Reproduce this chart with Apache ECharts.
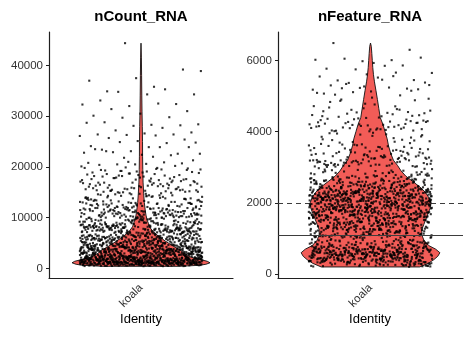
<!DOCTYPE html>
<html>
<head>
<meta charset="utf-8">
<script src="https://cdn.jsdelivr.net/npm/echarts@6/dist/echarts.min.js"></script>
<style>
html,body{margin:0;padding:0;background:#fff}
#chart{width:474px;height:338px}
</style>
</head>
<body>
<div id="chart"></div>
<script>
// Identity groups on the x axis
const identities = ['koala'];

// Tick labels of the two y axes
const countTicks = [0, 10000, 20000, 30000, 40000];
const featureTicks = [0, 2000, 4000, 6000];

// Reference lines on the nFeature panel
const featureDashed = [2000];
const featureSolid = [1100];

// Violin outlines: value along the y axis and relative half width (1 = widest)
const countViolinY = [400, 600, 800, 1100, 1400, 1700, 2000, 2300, 3000, 3600, 4200, 4800, 5400, 6000, 6800, 7500, 8200, 8800, 9500, 10500, 11500, 13000, 14700, 17000, 19500, 22000, 25000, 28000, 31000, 34000, 38000, 41500, 44400];
const countViolinW = [0.55, 0.84, 0.94, 1, 0.96, 0.87, 0.78, 0.71, 0.62, 0.57, 0.49, 0.42, 0.35, 0.29, 0.21, 0.16, 0.123, 0.109, 0.09, 0.072, 0.061, 0.048, 0.039, 0.030, 0.026, 0.023, 0.022, 0.019, 0.0145, 0.0116, 0.0087, 0.0058, 0];
const featureViolinY = [200, 300, 400, 500, 600, 700, 800, 950, 1100, 1250, 1400, 1550, 1700, 1850, 2000, 2150, 2300, 2450, 2600, 2750, 2900, 3050, 3200, 3400, 3600, 3800, 4000, 4200, 4400, 4650, 4900, 5150, 5400, 5600, 5800, 6000, 6200, 6400, 6490];
const featureViolinW = [0.71, 0.83, 0.91, 0.97, 1, 0.94, 0.84, 0.77, 0.74, 0.74, 0.77, 0.8, 0.83, 0.86, 0.87, 0.84, 0.79, 0.71, 0.61, 0.51, 0.44, 0.39, 0.33, 0.29, 0.26, 0.24, 0.21, 0.18, 0.14, 0.12, 0.1, 0.079, 0.057, 0.043, 0.033, 0.026, 0.019, 0.011, 0];

// Per-cell nCount_RNA values
const nCount = [
44400, 38900, 35800, 34900, 39200, 37500, 37000, 35300, 34800, 34300,
34300, 33100, 32400, 32000, 32300, 32500, 31400, 31000, 30500, 30100,
29800, 29700, 28400, 28300, 28800, 28200, 28100, 28700, 27700, 27200,
26800, 26600, 26400, 26400, 26300, 26100, 26200, 25700, 25400, 25100,
24100, 24700, 24900, 24800, 23900, 23400, 22600, 23100, 22800, 23900,
22900, 23900, 22400, 23500, 22300, 21800, 22600, 22000, 23100, 20700,
20500, 20800, 20900, 20500, 21300, 20600, 20400, 20200, 21000, 20100,
19800, 15300, 17600, 16200, 18900, 15800, 19200, 16700, 17100, 15100,
18400, 16900, 15600, 19500, 17800, 16400, 18100, 15400, 17300, 19900,
16100, 18600, 15900, 17500, 19100, 16600, 15200, 18300, 17000, 16300,
19400, 15700, 18700, 16800, 17400, 15500, 19700, 16000, 18200, 17700,
15000, 18800, 16500, 19300, 17200, 15800, 18500, 16200, 17900, 19000,
15300, 16900, 18000, 15600, 17100, 19600, 16400, 15100, 18400, 17600,
16700, 19200, 15400, 17300, 18100, 16000, 15900, 19800, 16600, 17800,
15200, 18900, 16300, 17000, 15700, 19500, 16800, 18600, 15500, 17500,
16100, 18300, 15000, 17200, 19100, 16500, 15600, 18700, 17400, 16200,
15300, 19400, 17900, 15800, 16400, 18200, 15100, 17700, 16900, 15400,
10200, 12800, 11400, 14600, 10700, 13300, 11900, 10400, 12100, 14100,
10900, 11200, 13700, 10100, 12500, 11600, 14900, 10600, 13000, 11000,
12300, 10300, 11800, 14400, 10800, 12900, 11300, 13500, 10500, 12000,
11700, 14200, 10000, 12600, 11100, 13900, 10900, 12200, 11500, 14700,
10400, 13100, 11900, 10200, 12700, 11400, 13600, 10700, 12400, 11000,
14300, 10600, 11800, 13200, 10100, 12000, 11600, 14800, 10300, 12900,
11200, 13400, 10800, 11700, 12300, 10500, 14000, 11300, 12600, 10000,
13800, 11100, 10900, 12100, 14500, 10400, 11500, 13000, 10700, 12800,
11900, 10200, 13300, 11400, 12500, 10600, 14100, 11000, 10300, 12200,
13700, 11800, 10800, 12700, 11200, 14600, 10100, 11600, 13100, 10500,
12400, 11300, 10900, 13600, 11700, 10000, 12000, 14400, 10400, 11100,
12900, 10700, 13900, 11500, 10200, 12300, 11900, 14900, 10600, 13200,
11000, 12600, 10300, 11400, 13500, 10800, 12100, 11800, 14200, 10500,
11200, 13000, 10900, 12800, 11600, 10100, 14700, 11300, 12500, 10400,
13400, 11700, 10700, 12200, 11100, 14000, 10000, 11900, 13800, 10600,
12700, 11500, 10200, 13100, 11000, 14300, 10800, 12400, 11400, 10300,
7200, 8900, 7600, 9500, 8100, 7000, 9200, 7800, 8400, 7300,
9800, 8600, 7500, 8000, 9100, 7100, 8700, 7900, 9600, 8200,
7400, 9000, 8300, 7700, 9400, 8800, 7200, 8500, 9900, 7600,
8100, 7000, 9300, 7800, 8600, 7300, 9700, 8000, 7500, 8900,
9200, 7100, 8400, 7900, 9500, 8200, 7400, 8700, 7700, 9000,
8300, 7200, 9800, 8500, 7600, 8100, 9100, 7000, 8800, 7800,
9400, 7300, 8600, 8000, 7500, 9600, 8200, 7100, 8900, 7900,
9300, 7400, 8400, 7700, 9700, 8700, 7200, 8000, 9000, 7600,
8500, 7000, 9200, 7800, 8300, 7300, 9900, 8100, 7500, 8800,
9400, 7100, 8600, 7900, 9100, 8200, 7400, 8400, 7700, 9500,
8900, 7200, 8000, 7600, 9300, 8700, 7000, 8300, 7800, 9800,
8500, 7300, 9000, 8100, 7500, 9600, 8600, 7100, 7900, 8800,
9200, 7400, 8200, 7700, 9700, 8400, 7200, 8000, 9400, 7600,
8700, 7000, 9100, 7800, 8300, 7300, 9500, 8900, 7500, 8100,
7100, 9900, 8500, 7900, 7400, 9000, 8200, 7700, 8600, 7200,
5100, 6300, 5600, 6800, 5300, 6000, 5800, 6500, 5200, 6100,
5900, 6700, 5400, 6200, 5000, 6600, 5700, 6400, 5500, 6900,
5100, 6000, 5800, 6300, 5300, 6500, 5600, 6100, 5000, 6800,
5400, 6200, 5900, 6600, 5200, 6400, 5700, 6000, 5500, 6700,
5100, 6300, 5800, 6900, 5300, 6100, 5600, 6500, 5000, 6200,
5900, 6800, 5400, 6000, 5700, 6400, 5200, 6600, 5500, 6100,
5000, 6300, 5800, 6700, 5300, 6200, 5600, 6500, 5100, 6000,
5900, 6900, 5400, 6400, 5700, 6100, 5200, 6800, 5500, 6300,
5000, 6600, 5800, 6200, 5300, 6000, 5600, 6700, 5100, 6500,
5900, 6100, 5400, 6900, 5700, 6300, 5200, 6400, 5500, 6000,
5050, 6250, 5750, 6650, 5350, 6050, 5650, 6450, 5150, 6850,
5450, 6150, 5850, 6550, 5250, 6350, 5550, 6950, 5950, 6750,
5020, 5380, 5720, 6080, 5260, 5640, 6420, 5180, 5880, 6230,
5470, 5120, 5790, 6160, 5330, 5560, 6370, 5010, 5910, 6590,
5240, 5670, 6020, 5430, 5810, 6290, 5150, 5530, 6470, 5960,
3100, 4500, 3600, 4100, 3300, 4800, 3900, 3000, 4300, 3500,
4700, 3200, 4000, 3800, 4600, 3400, 4200, 3700, 4900, 3100,
4400, 3600, 3000, 4100, 3900, 4500, 3300, 4800, 3500, 4000,
3700, 4300, 3200, 4600, 3800, 4200, 3400, 4900, 3000, 4400,
3600, 4100, 3100, 4700, 3900, 4000, 3300, 4500, 3500, 4200,
3800, 4800, 3200, 4300, 3700, 4600, 3400, 4100, 3000, 4900,
3650, 4050, 3150, 4450, 3850, 4250, 3350, 4750, 3550, 4150,
3050, 4550, 3750, 4350, 3250, 4850, 3450, 4650, 3950, 3050,
3120, 4480, 3670, 4130, 3320, 4770, 3910, 3040, 4290, 3530,
4710, 3230, 4020, 3810, 4620, 3420, 4210, 3730, 4940, 3170,
4380, 3580, 3070, 4160, 3880, 4520, 3360, 4830, 3470, 4060,
3760, 4330, 3260, 4580, 3840, 4270, 3440, 4910, 3010, 4430,
3630, 4180, 3140, 4690, 3930, 4090, 3370, 4540, 3510, 4230,
3830, 4860, 3210, 4310, 3690, 4640, 3460, 4110, 3090, 4960,
3680, 4020, 3190, 4460, 3870, 4240, 3310, 4730, 3590, 4140,
3020, 4570, 3790, 4390, 3280, 4820, 3490, 4680, 3970, 3110,
3560, 4070, 3240, 4410, 3720, 3390, 4190, 3610, 3080, 4350,
3940, 3180, 4590, 3740, 3290, 4020, 3540, 3860, 3130, 4260,
3410, 3990, 3270, 3710, 3060, 4120, 3520, 3340, 3820, 3160,
1100, 2500, 1600, 2100, 1300, 2800, 1900, 1000, 2300, 1500,
2700, 1200, 2000, 1800, 2600, 1400, 2200, 1700, 2900, 1100,
2400, 1600, 1000, 2100, 1900, 2500, 1300, 2800, 1500, 2000,
1700, 2300, 1200, 2600, 1800, 2200, 1400, 2900, 1050, 2400,
1650, 2150, 1150, 2750, 1950, 2050, 1350, 2550, 1550, 2250,
1850, 2850, 1250, 2350, 1750, 2650, 1450, 2150, 1050, 2950,
1120, 2480, 1670, 2130, 1320, 2770, 1910, 1040, 2290, 1530,
2710, 1230, 2020, 1810, 2620, 1420, 2210, 1730, 2940, 1170,
2380, 1580, 1070, 2160, 1880, 2520, 1360, 2830, 1470, 2060,
1760, 2330, 1260, 2580, 1840, 2270, 1440, 2910, 1010, 2430,
1630, 2180, 1140, 2690, 1930, 2090, 1370, 2540, 1510, 2230,
1830, 2860, 1210, 2310, 1690, 2640, 1460, 2110, 1090, 2960,
1680, 2020, 1190, 2460, 1870, 2240, 1310, 2730, 1590, 2140,
1020, 2570, 1790, 2390, 1280, 2820, 1490, 2680, 1970, 1110,
1560, 2070, 1240, 2410, 1720, 1390, 2190, 1610, 1080, 2350,
1940, 1180, 2590, 1740, 1290, 2020, 1540, 1860, 1130, 2260,
1410, 1990, 1270, 1710, 1060, 2120, 1520, 1340, 1820, 1160,
1210, 1480, 1030, 1640, 1380, 1150, 1780, 1250, 1430, 1090,
2450, 1570, 1330, 2080, 1620, 1200, 2720, 1460, 1040, 1900,
1350, 2180, 1130, 1690, 2560, 1280, 1850, 1070, 2300, 1500,
1180, 1760, 1420, 2010, 1240, 1600, 2890, 1320, 1950, 1100,
1560, 1140, 2200, 1390, 1700, 1030, 2470, 1260, 1800, 1470,
1060, 2640, 1300, 1920, 1190, 1550, 2100, 1400, 1710, 1120,
1230, 1660, 1020, 2360, 1450, 1800, 1160, 1980, 1350, 2790,
650, 820, 480, 930, 710, 560, 880, 600, 770, 990,
520, 690, 850, 430, 740, 960, 580, 810, 670, 900,
450, 790, 620, 970, 540, 860, 700, 500, 920, 760,
630, 840, 470, 980, 680, 570, 890, 730, 610, 950,
510, 800, 660, 910, 440, 750, 870, 590, 940, 720,
550, 830, 640, 990, 490, 780, 910, 620, 700, 860,
530, 950, 680, 810, 460, 740, 890, 600, 970, 770,
560, 830, 650, 920, 500, 710, 880, 590, 960, 760,
1340, 2710, 880, 3450, 1960, 5200, 2280, 760, 4100, 1520,
3080, 1190, 6100, 2460, 940, 1780, 3720, 2050, 5650, 1410,
2590, 830, 4470, 1630, 3290, 1070, 2170, 6580, 1880, 2940,
1260, 3860, 710, 2390, 4920, 1560, 2820, 1010, 3570, 1730,
5430, 2120, 1380, 620, 3010, 1910, 4280, 2660, 1150, 3340,
1670, 6290, 2230, 960, 3780, 1490, 2540, 5870, 1820, 1040,
2980, 4630, 1290, 2370, 850, 3620, 1970, 5010, 2720, 1110,
1590, 3190, 740, 2080, 4390, 1360, 2860, 6850, 1750, 3470,
1220, 2440, 5560, 1930, 930, 3910, 2610, 1450, 4760, 1060,
2190, 3380, 1700, 680, 2890, 1280, 5340, 2010, 3650, 1540,
990, 2500, 4180, 1840, 3120, 1170, 6420, 2290, 1620, 3830,
2770, 1320, 790, 4560, 1990, 2630, 1090, 3260, 5780, 1470,
1860, 3540, 2140, 1210, 4990, 2410, 870, 1690, 3060, 6020,
1400, 2930, 1780, 4310, 1030, 2330, 3700, 1570, 5120, 2060,
1160, 3390, 2700, 910, 4050, 1950, 1310, 2480, 6700, 1640,
3160, 1060, 2260, 4840, 1730, 3590, 1250, 5490, 2550, 820,
1920, 4230, 1480, 2790, 1100, 3930, 2110, 1610, 5960, 2360,
1390, 3270, 950, 2640, 4680, 1800, 3010, 1180, 2200, 6230,
1510, 3740, 2420, 860, 4420, 1670, 2910, 1270, 3480, 5300,
2030, 1130, 3840, 2580, 720, 1870, 4570, 2250, 1430, 3170,
6540, 1740, 2820, 1050, 3610, 1960, 5080, 2470, 1360, 4010,
1580, 2960, 900, 2170, 4740, 1230, 3420, 1900, 5610, 2680,
1200, 3310, 2090, 1660, 4130, 2530, 780, 1830, 3890, 6140,
1440, 2340, 3000, 1080, 4890, 2210, 1710, 3530, 1300, 5410,
2570, 970, 1950, 3760, 1530, 4340, 2730, 1140, 3220, 6760,
1350, 2440, 4610, 1760, 2900, 1020, 3680, 2050, 5200, 1600,
2150, 3990, 1250, 2670, 810, 4210, 1890, 3350, 1470, 5730,
1120, 2380, 3140, 1580, 4480, 2000, 920, 2800, 3810, 1650,
2270, 5030, 1420, 3050, 1780, 4650, 2490, 1000, 3430, 6360,
1330, 2600, 1890, 3950, 1150, 2240, 4400, 1700, 5850, 2950,
7350, 10800, 8150, 12600, 7750, 9450, 13900, 8550, 11300, 7150,
9850, 7450, 14400, 8250, 10400, 7650, 12100, 8950, 7050, 11700,
8450, 13200, 7250, 9650, 10100, 7850, 14800, 8650, 11900, 7550,
9250, 12800, 7950, 10600, 8050, 13500, 7350, 9050, 11100, 8750,
7150, 14100, 8350, 10300, 7650, 12400, 9350, 7450, 11500, 8850,
7850, 13700, 8150, 9750, 7250, 10900, 12200, 8450, 7550, 9150,
14600, 7950, 11200, 8650, 7350, 10200, 9550, 13100, 8050, 7750,
11800, 8250, 7050, 12900, 9950, 7650, 10700, 8550, 14300, 7450,
9450, 11400, 7150, 8950, 13400, 7850, 10500, 8350, 12300, 7250,
8750, 9850, 11600, 7550, 13800, 8150, 10000, 7950, 12700, 9050
];

// Per-cell nFeature_RNA values
const nFeature = [
412, 687, 253, 534, 811, 376, 598, 742, 465, 925,
318, 553, 706, 441, 879, 264, 621, 503, 768, 397,
582, 836, 227, 649, 471, 958, 342, 715, 527, 604,
289, 763, 438, 571, 902, 356, 689, 514, 247, 831,
624, 405, 752, 338, 567, 983, 476, 641, 213, 798,
545, 372, 867, 459, 612, 736, 281, 503, 944, 428,
697, 331, 586, 814, 457, 239, 673, 521, 759, 366,
489, 918, 602, 274, 735, 548, 383, 856, 431, 657,
206, 576, 724, 492, 349, 891, 633, 416, 781, 558,
305, 668, 447, 963, 529, 712, 258, 594, 837, 402,
641, 485, 227, 779, 363, 552, 906, 619, 434, 748,
512, 296, 687, 571, 843, 419, 637, 351, 726, 468,
925, 583, 244, 661, 497, 815, 387, 536, 702, 452,
619, 331, 774, 566, 268, 895, 448, 683, 524, 407,
756, 602, 373, 849, 478, 214, 628, 541, 937, 695,
441, 587, 318, 729, 506, 862, 391, 654, 231, 573,
798, 463, 617, 345, 952, 531, 688, 427, 764, 285,
556, 902, 479, 643, 372, 715, 593, 249, 826, 518,
667, 396, 781, 553, 438, 976, 612, 327, 704, 485,
539, 263, 648, 827, 416, 573, 741, 357, 889, 501,
624, 447, 293, 708, 562, 838, 431, 675, 219, 596,
753, 488, 614, 372, 917, 527, 681, 304, 779, 459,
582, 236, 697, 543, 861, 423, 638, 354, 727, 496,
411, 663, 286, 819, 547, 392, 735, 618, 471, 948,
527, 342, 774, 601, 458, 253, 689, 532, 807, 374,
646, 498, 223, 712, 565, 884, 419, 657, 336, 593,
768, 441, 627, 279, 541, 932, 486, 703, 368, 579,
437, 804, 552, 316, 684, 519, 241, 746, 607, 392,
869, 473, 635, 521, 297, 758, 583, 445, 991, 662,
354, 597, 716, 463, 832, 538, 271, 649, 406, 775,
1043, 1587, 1268, 1912, 1395, 1736, 1124, 1653, 1847, 1309,
1472, 1968, 1205, 1561, 1783, 1036, 1429, 1874, 1647, 1258,
1816, 1347, 1592, 1091, 1938, 1476, 1712, 1183, 1624, 1865,
1251, 1708, 1433, 1976, 1162, 1549, 1821, 1387, 1064, 1693,
1907, 1519, 1228, 1776, 1452, 1843, 1116, 1675, 1334, 1982,
1578, 1141, 1729, 1863, 1296, 1613, 1047, 1952, 1438, 1786,
1362, 1894, 1527, 1173, 1668, 1805, 1245, 1931, 1492, 1079,
1741, 1318, 1856, 1609, 1197, 1924, 1456, 1688, 1023, 1571,
1838, 1284, 1637, 1995, 1411, 1752, 1135, 1586, 1879, 1346,
1503, 1967, 1214, 1796, 1378, 1642, 1058, 1913, 1485, 1727,
1269, 1831, 1554, 1107, 1693, 1948, 1322, 1768, 1419, 1884,
1636, 1191, 1747, 1532, 1973, 1285, 1819, 1068, 1605, 1398,
1926, 1461, 1713, 1154, 1857, 1579, 1236, 1694, 1988, 1353,
1771, 1025, 1648, 1906, 1409, 1538, 1872, 1267, 1721, 1483,
1119, 1961, 1593, 1342, 1805, 1678, 1218, 1947, 1446, 1762,
1597, 1293, 1889, 1056, 1734, 1516, 1923, 1377, 1662, 1148,
1843, 1427, 1701, 1982, 1274, 1619, 1811, 1035, 1562, 1897,
1359, 1754, 1498, 1934, 1186, 1673, 1867, 1443, 1226, 1789,
1651, 1918, 1313, 1586, 1097, 1828, 1471, 1742, 1964, 1237,
1525, 1878, 1164, 1697, 1433, 1956, 1302, 1779, 1618, 1073,
1894, 1388, 1736, 1549, 1211, 1853, 1467, 1991, 1632, 1329,
1767, 1083, 1689, 1902, 1436, 1574, 1261, 1825, 1713, 1958,
1403, 1657, 1947, 1128, 1796, 1518, 1869, 1341, 1604, 1243,
1977, 1562, 1818, 1282, 1725, 1414, 1052, 1889, 1666, 1498,
1753, 1191, 1935, 1621, 1373, 1848, 1537, 1009, 1704, 1917,
1446, 1783, 1254, 1593, 1966, 1328, 1861, 1677, 1143, 1512,
1802, 1639, 1397, 1942, 1275, 1718, 1584, 1892, 1026, 1461,
1649, 1928, 1353, 1775, 1508, 1213, 1876, 1739, 1425, 1986,
1566, 1104, 1831, 1697, 1384, 1954, 1248, 1608, 1817, 1479,
1922, 1336, 1758, 1543, 1177, 1883, 1626, 1418, 1969, 1295,
1714, 1857, 1469, 1061, 1792, 1589, 1938, 1367, 1654, 1834,
1238, 1683, 1901, 1523, 1406, 1976, 1742, 1152, 1861, 1597,
1492, 1808, 1316, 1947, 1669, 1221, 1783, 1545, 1893, 1087,
1627, 1958, 1452, 1724, 1309, 1869, 1561, 1196, 1996, 1738,
1385, 1819, 1643, 1916, 1276, 1578, 1849, 1434, 1703, 1962,
1133, 1692, 1886, 1517, 1354, 1927, 1766, 1263, 1613, 1874,
2043, 2387, 2156, 2612, 2274, 2518, 2091, 2835, 2339, 2205,
2468, 2127, 2703, 2251, 2064, 2574, 2318, 2189, 2926, 2432,
2015, 2296, 2657, 2143, 2489, 2238, 2071, 2764, 2362, 2115,
2541, 2207, 2049, 2418, 2882, 2176, 2325, 2634, 2098, 2273,
2397, 2034, 2552, 2161, 2718, 2284, 2119, 2463, 2957, 2226,
2082, 2349, 2591, 2194, 2027, 2445, 2786, 2263, 2138, 2506,
2312, 2058, 2679, 2217, 2373, 2104, 2529, 2866, 2245, 2011,
2436, 2183, 2614, 2297, 2069, 2752, 2341, 2152, 2487, 2036,
2268, 2571, 2123, 2404, 2918, 2196, 2053, 2638, 2329, 2249,
2094, 2458, 2173, 2731, 2286, 2019, 2544, 2365, 2137, 2819,
2214, 2392, 2076, 2599, 2258, 2148, 2477, 2041, 2693, 2302,
2167, 2856, 2233, 2425, 2087, 2562, 2311, 2195, 2645, 2024,
2378, 2129, 2514, 2269, 2062, 2773, 2416, 2184, 2335, 2948,
2097, 2243, 2588, 2154, 2451, 2033, 2707, 2292, 2178, 2382,
2526, 2066, 2324, 2839, 2211, 2469, 2109, 2627, 2358, 2246,
2052, 2413, 2171, 2745, 2307, 2089, 2553, 2227, 2139, 2894,
2281, 2028, 2496, 2366, 2158, 2661, 2239, 2074, 2431, 2585,
2192, 2343, 2016, 2724, 2276, 2118, 2537, 2409, 2061, 2804,
2254, 2164, 2478, 2309, 2086, 2618, 2201, 2376, 2047, 2975,
2333, 2142, 2563, 2221, 2404, 2078, 2689, 2289, 2131, 2446,
2029, 2517, 2265, 2187, 2758, 2354, 2103, 2472, 2236, 2057,
2603, 2318, 2149, 2867, 2421, 2084, 2296, 2532, 2206, 2385,
2038, 2674, 2257, 2166, 2448, 2112, 2791, 2327, 2219, 2059,
2495, 2372, 2128, 2581, 2263, 2013, 2936, 2436, 2181, 2304,
2647, 2092, 2241, 2519, 2357, 2151, 2713, 2278, 2045, 2461,
2199, 2338, 2828, 2072, 2566, 2229, 2417, 2136, 2685, 2271,
2023, 2487, 2314, 2172, 2596, 2249, 2908, 2109, 2393, 2542,
2064, 2263, 2739, 2186, 2426, 2031, 2619, 2348, 2217, 2784,
2117, 2503, 2282, 2056, 2669, 2361, 2144, 2851, 2231, 2453,
3042, 3387, 3156, 3712, 3274, 3518, 3091, 3835, 3339, 3205,
3468, 3127, 3903, 3251, 3064, 3574, 3618, 3189, 3926, 3432,
3015, 3296, 3657, 3143, 3489, 3238, 3071, 3764, 3362, 3115,
3541, 3207, 3049, 3418, 3882, 3176, 3325, 3634, 3098, 3273,
3397, 3034, 3552, 3161, 3718, 3284, 3119, 3463, 3957, 3226,
3082, 3349, 3591, 3194, 3027, 3445, 3786, 3263, 3138, 3506,
3312, 3058, 3679, 3217, 3373, 3104, 3529, 3866, 3245, 3011,
3436, 3183, 3614, 3297, 3069, 3752, 3341, 3152, 3487, 3036,
3268, 3571, 3123, 3404, 3918, 3196, 3053, 3638, 3329, 3249,
3094, 3458, 3173, 3731, 3286, 3019, 3544, 3365, 3137, 3819,
3214, 3392, 3076, 3599, 3258, 3148, 3477, 3041, 3693, 3302,
3167, 3856, 3233, 3425, 3087, 3562, 3311, 3195, 3645, 3024,
3378, 3129, 3514, 3969, 3062, 3773, 3416, 3184, 3335, 3948,
4032, 4387, 4156, 4712, 4274, 4518, 4091, 4835, 4339, 4205,
4468, 4127, 4903, 4251, 4064, 4574, 4618, 4189, 4926, 4432,
4015, 4296, 4657, 4143, 4489, 4238, 4071, 4764, 4362, 4115,
4541, 4207, 4049, 4418, 4882, 4176, 4325, 4634, 4098, 4273,
4397, 4034, 4552, 4161, 4718, 4284, 4119, 4463, 4957, 4226,
4082, 4349, 4591, 4194, 4027, 4445, 4786, 4263, 4138, 4506,
4312, 4058, 4679, 4217, 4373, 4104, 4529, 4866, 4245, 4011,
4436, 4183, 4614, 4297, 4069,
6490, 6300, 5980, 6020, 6010, 6050, 6080, 5930, 5770, 5860,
5750, 5650, 5850, 5440, 5450, 5610, 5550, 5660, 5370, 5380,
5520, 5300, 5210, 5230, 5180, 5240, 5220, 5190, 5130, 5070,
5020, 5110, 5310, 5460, 5040, 5150, 5270, 5090, 5560, 5340,
583, 1742, 2216, 417, 1355, 2681, 762, 1928, 339, 2054,
1187, 648, 2473, 1596, 291, 2129, 874, 1463, 2805, 526,
1831, 395, 2342, 1078, 701, 1659, 2188, 473, 1294, 2567,
609, 1976, 2041, 342, 1518, 2756, 827, 1143, 2297, 458,
1703, 2412, 553, 1267, 2093, 389, 1884, 671, 2631, 1421,
246, 2159, 1052, 745, 1795, 2378, 518, 1336, 2904, 637,
1561, 2247, 431, 1908, 862, 2526, 1209, 304, 2012, 1677,
789, 2684, 1453, 562, 2138, 1026, 1857, 376, 2319, 1592,
694, 2069, 1381, 2843, 481, 1745, 2201, 927, 1234, 2437,
357, 1966, 602, 2592, 1116, 1683, 2275, 443, 1527, 2108,
815, 2367, 1302, 267, 1849, 2723, 574, 1412, 2056, 738,
1619, 2183, 396, 1947, 1071, 2496, 659, 1263, 2331, 512,
1787, 2028, 884, 2648, 1349, 317, 1924, 2226, 593, 1495,
2411, 726, 1138, 2087, 451, 1672, 2769, 1017, 1881, 369,
2152, 1573, 617, 2294, 1238, 2542, 493, 1814, 2037, 854,
1397, 2614, 284, 1735, 2171, 677, 1462, 2358, 1095, 536,
1952, 2463, 748, 1186, 2118, 402, 1628, 2887, 921, 1779,
2249, 567, 1317, 2006, 1864, 691, 2577, 1449, 337, 2139,
1041, 1708, 2302, 463, 1583, 2661, 803, 1216, 2084, 628,
1898, 2393, 381, 1369, 2193, 956, 1646, 2505, 547, 1129,
2035, 709, 1813, 2281, 428, 1511, 2739, 1068, 1936, 603,
2216, 1288, 874, 2449, 1742, 324, 2063, 1601, 2616, 495,
1157, 1996, 764, 2347, 1434, 2128, 658, 1867, 2791, 1023,
416, 2254, 1541, 2072, 832, 1326, 2528, 575, 1719, 2181,
941, 1481, 2406, 359, 1792, 2021, 716, 1249, 2683, 1614,
2104, 531, 1958, 2322, 1107, 684, 1567, 2475, 278, 1843,
2145, 1383, 797, 2593, 1665, 447, 2016, 1203, 2268, 621,
1739, 2384, 975, 1424, 2089, 538, 1917, 2862, 1166, 733,
2231, 1636, 406, 2047, 1295, 2557, 849, 1786, 2174, 585,
1358, 2436, 1022, 1877, 327, 2203, 1549, 2714, 667, 1988,
2096, 778, 1454, 2361, 521, 1691, 2125, 1075, 2498, 383,
1827, 2268, 615, 1341, 2044, 906, 1597, 2652, 472, 1223,
1973, 2327, 737, 1502, 2161, 363, 1765, 2579, 1134, 555,
2013, 1418, 892, 2283, 1658, 2822, 436, 1277, 2108, 691,
1906, 2452, 1049, 578, 1732, 2236, 812, 1372, 2689, 1543,
2079, 299, 1853, 2395, 1181, 649, 1617, 2146, 958, 2517,
1468, 517, 2027, 1795, 2344, 771, 1234, 2603, 421, 1941,
2189, 1093, 1681, 2471, 611, 1329, 2058, 883, 2743, 1527,
358, 1889, 2216, 1146, 701, 2422, 1566, 2009, 489, 1762,
2303, 1259, 819, 2119, 1473, 2636, 563, 1938, 1084, 2277
];

const FILL = '#F25C57';
const AXIS = '#1f1f1f';
const TEXT = '#333333';
const HALF_WIDTH = 0.45;   // violin half width at its widest, in x units
const JITTER = 0.4;        // horizontal spread of the points, in x units

// Spread each point horizontally around the group centre (evenly by index)
function jittered(values) {
  return values.map((v, i) => [1 + JITTER * (2 * ((i * 0.6180339887 + 0.37) % 1) - 1), v]);
}

function violin(ys, ws, xIdx, yIdx, markLine) {
  const s = {
    type: 'custom', xAxisIndex: xIdx, yAxisIndex: yIdx, z: 3, silent: true,
    data: [0], clip: false,
    renderItem: function (params, api) {
      const right = ys.map((y, i) => api.coord([1 + ws[i] * HALF_WIDTH, y]));
      const left = ys.map((y, i) => api.coord([1 - ws[i] * HALF_WIDTH, y])).reverse();
      return {
        type: 'polygon',
        shape: { points: right.concat(left) },
        style: { fill: FILL, stroke: '#111', lineWidth: 0.9 }
      };
    }
  };
  if (markLine) s.markLine = markLine;
  return s;
}

function points(values, xIdx, yIdx, markLine) {
  const s = {
    type: 'scatter', xAxisIndex: xIdx, yAxisIndex: yIdx, z: 4, silent: true,
    symbol: 'rect', symbolSize: 2.1,
    itemStyle: { color: '#000' },
    data: jittered(values)
  };
  if (markLine) s.markLine = markLine;
  return s;
}

function catAxis(grid) {
  return {
    type: 'category', gridIndex: grid, data: identities, boundaryGap: true,
    axisLine: { onZero: false, lineStyle: { color: AXIS, width: 1.2 } },
    axisTick: { alignWithLabel: true, length: 3, lineStyle: { color: AXIS, width: 1 } },
    axisLabel: { rotate: 45, margin: 8, color: TEXT, fontSize: 11.5, fontFamily: 'Liberation Sans' },
    splitLine: { show: false }
  };
}

function valAxisX(grid) {
  return { type: 'value', gridIndex: grid, min: 0.4, max: 1.6, show: false };
}

function valAxisY(grid, min, max, ticks) {
  return {
    type: 'value', gridIndex: grid, min: min, max: max,
    axisLine: { show: true, onZero: false, lineStyle: { color: AXIS, width: 1.2 } },
    axisTick: { show: true, length: 3, customValues: ticks, lineStyle: { color: AXIS, width: 1 } },
    axisLabel: {
      customValues: ticks, margin: 6, color: TEXT, fontSize: 11.5, fontFamily: 'Liberation Sans',
      formatter: v => String(v)
    },
    splitLine: { show: false }
  };
}

function hline(values, type, z) {
  return {
    silent: true, symbol: ['none', 'none'], z: z,
    label: { show: false },
    lineStyle: { color: '#3d3d3d', width: 1, type: type },
    data: values.map(v => ({ yAxis: v })),
    animation: false
  };
}

const chart = echarts.init(document.getElementById('chart'), null, { renderer: 'canvas' });

const titleStyle = { fontFamily: 'Liberation Sans', fontWeight: 'bold', fontSize: 15, fill: '#000', align: 'center', verticalAlign: 'middle' };
const nameStyle = { fontFamily: 'Liberation Sans', fontSize: 13, fill: '#000', align: 'center', verticalAlign: 'middle' };

chart.setOption({
  animation: false,
  backgroundColor: '#fff',
  grid: [
    { left: 49, top: 32, width: 184, height: 246 },
    { left: 278, top: 32, width: 185, height: 246 }
  ],
  xAxis: [catAxis(0), valAxisX(0), catAxis(1), valAxisX(1)],
  yAxis: [
    valAxisY(0, -1900, 46600, countTicks),
    valAxisY(1, -110, 6800, featureTicks)
  ],
  series: [
    violin(countViolinY, countViolinW, 1, 0),
    points(nCount, 1, 0),
    violin(featureViolinY, featureViolinW, 3, 1, hline(featureDashed, [5, 4], 1)),
    points(nFeature, 3, 1, hline(featureSolid, 'solid', 6))
  ],
  graphic: [
    { type: 'text', x: 141, y: 17, style: Object.assign({ text: 'nCount_RNA' }, titleStyle) },
    { type: 'text', x: 370, y: 17, style: Object.assign({ text: 'nFeature_RNA' }, titleStyle) },
    { type: 'text', x: 141, y: 319, style: Object.assign({ text: 'Identity' }, nameStyle) },
    { type: 'text', x: 370, y: 319, style: Object.assign({ text: 'Identity' }, nameStyle) }
  ]
});
</script>
</body>
</html>
